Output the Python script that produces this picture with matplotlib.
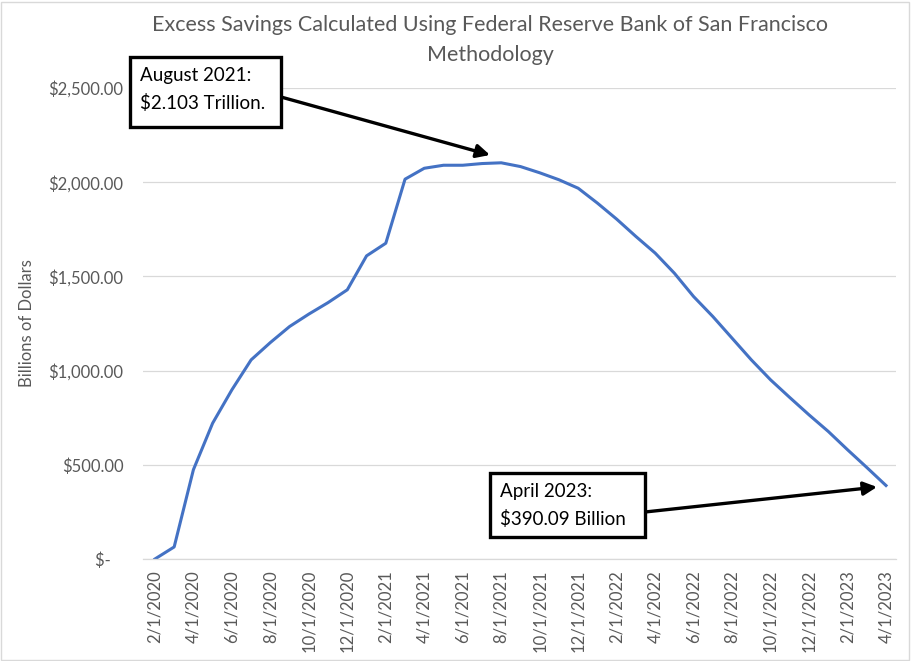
import matplotlib
matplotlib.use("Agg")
import matplotlib.pyplot as plt
from matplotlib.patches import Rectangle, FancyArrowPatch

plt.rcParams['font.family'] = ['Lato', 'DejaVu Sans']

months = ["2/1/2020", "3/1/2020", "4/1/2020", "5/1/2020", "6/1/2020", "7/1/2020",
          "8/1/2020", "9/1/2020", "10/1/2020", "11/1/2020", "12/1/2020", "1/1/2021",
          "2/1/2021", "3/1/2021", "4/1/2021", "5/1/2021", "6/1/2021", "7/1/2021",
          "8/1/2021", "9/1/2021", "10/1/2021", "11/1/2021", "12/1/2021", "1/1/2022",
          "2/1/2022", "3/1/2022", "4/1/2022", "5/1/2022", "6/1/2022", "7/1/2022",
          "8/1/2022", "9/1/2022", "10/1/2022", "11/1/2022", "12/1/2022", "1/1/2023",
          "2/1/2023", "3/1/2023", "4/1/2023"]
excess_savings = [0, 64, 474, 721, 898, 1057,
                  1149, 1234, 1300, 1361, 1429, 1609,
                  1676, 2016, 2074, 2090, 2090, 2099,
                  2103, 2083, 2050, 2013, 1968, 1889,
                  1804, 1712, 1624, 1517, 1393, 1287,
                  1172, 1057, 951, 857, 765, 677,
                  580, 486, 390.09]
y_ticks = [0, 500, 1000, 1500, 2000, 2500]
y_tick_labels = ["$-   ", "$500.00", "$1,000.00", "$1,500.00", "$2,000.00", "$2,500.00"]

W, H = 911, 661
fig = plt.figure(figsize=(W / 100, H / 100), dpi=100)
ax = fig.add_axes([143 / W, 1 - 559 / H, (896 - 143) / W, (559 - 88) / H])

x = list(range(len(months)))
ax.plot(x, excess_savings, color="#4472C4", linewidth=2.2, solid_joinstyle="round")

ax.set_xlim(-0.62, 38.52)
ax.set_ylim(0, 2500)
ax.set_yticks(y_ticks)
ax.set_yticklabels(y_tick_labels)
ax.set_xticks(x[::2])
ax.set_xticklabels(months[::2], rotation=90, va="top", ha="center")
ax.grid(axis="y", color="#D9D9D9", linewidth=0.9)
ax.set_axisbelow(True)
for s in ["top", "right", "left"]:
    ax.spines[s].set_visible(False)
ax.spines["bottom"].set_color("#D9D9D9")
ax.spines["bottom"].set_linewidth(0.9)
ax.tick_params(axis="both", length=0, colors="#595959", labelsize=12)
ax.tick_params(axis="x", pad=8)
ax.tick_params(axis="y", pad=14)
ax.set_ylabel("Billions of Dollars", color="#595959", fontsize=12, labelpad=10)

fig.text(490 / W, 1 - 25 / H, "Excess Savings Calculated Using Federal Reserve Bank of San Francisco",
         ha="center", va="center", fontsize=15.5, color="#595959")
fig.text(490 / W, 1 - 55 / H, "Methodology", ha="center", va="center", fontsize=15.5, color="#595959")

def fp(px, py):
    return (px / W, 1 - py / H)

# annotation boxes
for (x0, y0, x1, y1), lines in [((130, 57, 281, 127), ["August 2021:", "$2.103 Trillion."]),
                                ((490, 473, 645, 537), ["April 2023:", "$390.09 Billion"])]:
    fig.patches.append(Rectangle(fp(x0, y1), (x1 - x0) / W, (y1 - y0) / H,
                                 transform=fig.transFigure, facecolor="white",
                                 edgecolor="black", linewidth=2.4, zorder=5))
    fig.text(*fp(x0 + 10, y0 + 18), lines[0], ha="left", va="center", fontsize=13.5, color="black", zorder=6)
    fig.text(*fp(x0 + 10, y0 + 46), lines[1], ha="left", va="center", fontsize=13.5, color="black", zorder=6)

for (sx, sy), (ex, ey) in [((281, 97), (490, 155)), ((645, 512), (877, 487))]:
    fig.patches.append(FancyArrowPatch(fp(sx, sy), fp(ex, ey), transform=fig.transFigure,
                                       arrowstyle="-|>", mutation_scale=20, color="black",
                                       linewidth=2.4, shrinkA=0, shrinkB=0, zorder=4))

# chart border
fig.patches.append(Rectangle((1 / W, 1 / H), (W - 3) / W, (H - 3) / H, transform=fig.transFigure,
                             facecolor="none", edgecolor="#D9D9D9", linewidth=1))

fig.savefig("out.png", dpi=100)
